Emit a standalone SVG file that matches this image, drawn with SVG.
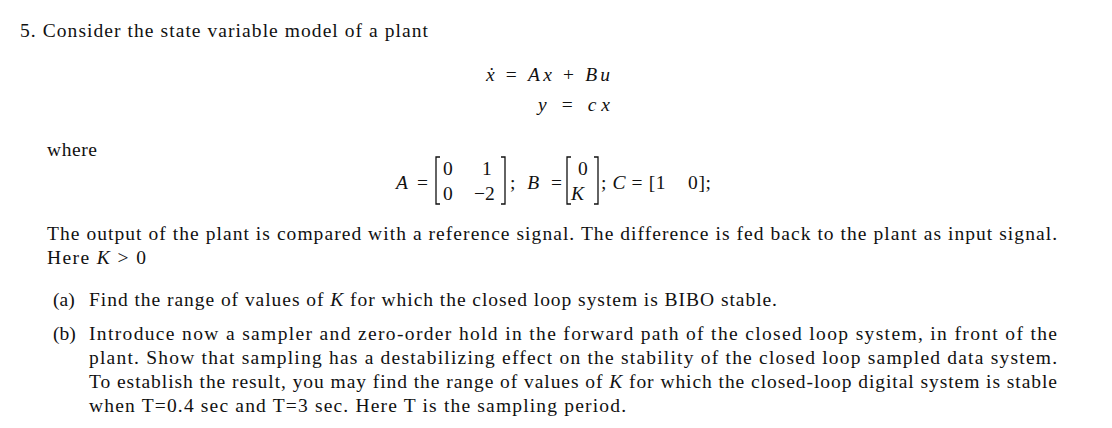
<svg xmlns="http://www.w3.org/2000/svg" width="1112" height="428" viewBox="0 0 1112 428">
<style>
text{font-family:"Liberation Serif","DejaVu Serif",serif;font-size:19.5px;fill:#111}
.i{font-style:italic}
.b{fill:none;stroke:#111;stroke-width:1.3}
</style>
<rect width="1112" height="428" fill="#fff"/>
<text x="20" y="37" textLength="408" lengthAdjust="spacing">5. Consider the state variable model of a plant</text>
<text x="486" y="81" textLength="124" lengthAdjust="spacing"><tspan class="i">ẋ</tspan> = <tspan class="i">Ax</tspan> + <tspan class="i">Bu</tspan></text>
<text x="538" y="111" textLength="72" lengthAdjust="spacing"><tspan class="i">y</tspan> = <tspan class="i">cx</tspan></text>
<text x="47" y="156" textLength="50" lengthAdjust="spacing">where</text>
<text x="396" y="189" textLength="32" lengthAdjust="spacing"><tspan class="i">A</tspan> =</text>
<path class="b" d="M440,157 h-4 v47 h4 M501,157 h4 v47 h-4"/>
<text x="443" y="175">0</text><text x="482" y="175">1</text>
<text x="443" y="200">0</text><text x="474" y="200">−2</text>
<text x="510" y="189" textLength="52" lengthAdjust="spacing">; <tspan class="i">B</tspan> =</text>
<path class="b" d="M571,157 h-4 v47 h4 M594,157 h4 v47 h-4"/>
<text x="578" y="175">0</text><text x="571" y="200" class="i">K</text>
<text x="601" y="189" textLength="110" lengthAdjust="spacing">; <tspan class="i">C</tspan> = [1 &#160;&#160;&#160;0];</text>
<text x="47" y="240" textLength="1010" lengthAdjust="spacing">The output of the plant is compared with a reference signal. The difference is fed back to the plant as input signal.</text>
<text x="47" y="264" textLength="99" lengthAdjust="spacing">Here <tspan class="i">K</tspan> &gt; 0</text>
<text x="53" y="306">(a)</text>
<text x="89" y="306" textLength="688" lengthAdjust="spacing">Find the range of values of <tspan class="i">K</tspan> for which the closed loop system is BIBO stable.</text>
<text x="53" y="340">(b)</text>
<text x="89" y="340" textLength="968" lengthAdjust="spacing">Introduce now a sampler and zero-order hold in the forward path of the closed loop system, in front of the</text>
<text x="89" y="364" textLength="968" lengthAdjust="spacing">plant. Show that sampling has a destabilizing effect on the stability of the closed loop sampled data system.</text>
<text x="89" y="388" textLength="968" lengthAdjust="spacing">To establish the result, you may find the range of values of <tspan class="i">K</tspan> for which the closed-loop digital system is stable</text>
<text x="89" y="412" textLength="537" lengthAdjust="spacing">when T=0.4 sec and T=3 sec. Here T is the sampling period.</text>
</svg>
